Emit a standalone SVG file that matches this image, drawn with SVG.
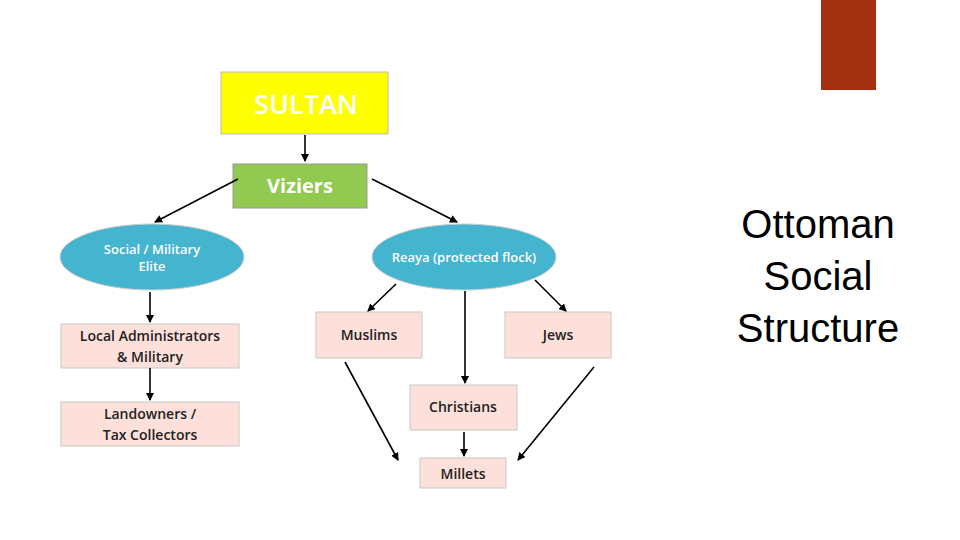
<svg xmlns="http://www.w3.org/2000/svg" width="960" height="540" viewBox="0 0 960 540">
<style>
.box{fill:#fde0da;stroke:#c8c8c8;stroke-width:1}
.t{font-family:"Open Sans","Liberation Sans",sans-serif;font-size:14px;fill:#222;text-anchor:middle;font-weight:600}
.w{font-family:"Open Sans","Liberation Sans",sans-serif;fill:#fff;text-anchor:middle;font-weight:600}
.c line{stroke:#000;stroke-width:1.6;marker-end:url(#a)}
</style>
<defs><marker id="a" markerWidth="8" markerHeight="8" refX="7" refY="4" orient="auto" markerUnits="userSpaceOnUse"><path d="M0,0L8,4L0,8z" fill="#000"/></marker></defs>
<rect width="960" height="540" fill="#fff"/>
<rect x="821" y="0" width="55" height="90" fill="#a33111"/>
<g id="sultan"><rect x="221" y="72" width="167" height="62" fill="#ffff00" stroke="#bbb"/><text class="w" x="306" y="114" font-size="27">SULTAN</text></g>
<g id="viziers"><rect x="233" y="164" width="134" height="44" fill="#92c950" stroke="#999"/><text class="w" x="300" y="193" font-size="20" style="font-weight:bold">Viziers</text></g>
<g id="elite"><ellipse cx="152" cy="257" rx="92" ry="33" fill="#45b4cf" stroke="#ccc"/><text class="w" x="152" y="254" font-size="13">Social / Military</text><text class="w" x="152" y="271" font-size="13">Elite</text></g>
<g id="reaya"><ellipse cx="464" cy="257" rx="92" ry="33" fill="#45b4cf" stroke="#ccc"/><text class="w" x="464" y="262" font-size="13">Reaya (protected flock)</text></g>
<g id="local"><rect class="box" x="61" y="324" width="178" height="44"/><text class="t" x="150" y="341">Local Administrators</text><text class="t" x="150" y="362">&amp; Military</text></g>
<g id="land"><rect class="box" x="61" y="402" width="178" height="44"/><text class="t" x="150" y="419">Landowners /</text><text class="t" x="150" y="440">Tax Collectors</text></g>
<g id="muslims"><rect class="box" x="316" y="312" width="106" height="46"/><text class="t" x="369" y="340">Muslims</text></g>
<g id="jews"><rect class="box" x="505" y="312" width="106" height="46"/><text class="t" x="558" y="340">Jews</text></g>
<g id="christians"><rect class="box" x="410" y="385" width="107" height="45"/><text class="t" x="463" y="412">Christians</text></g>
<g id="millets"><rect class="box" x="420" y="458" width="86" height="30"/><text class="t" x="463" y="479">Millets</text></g>
<g class="c">
<line x1="305" y1="135" x2="305" y2="161"/>
<line x1="238" y1="179" x2="155" y2="222"/>
<line x1="372" y1="179" x2="457" y2="222"/>
<line x1="150" y1="292" x2="150" y2="322"/>
<line x1="150" y1="368" x2="150" y2="400"/>
<line x1="396" y1="284" x2="368" y2="311"/>
<line x1="465" y1="291" x2="465" y2="383"/>
<line x1="535" y1="280" x2="566" y2="311"/>
<line x1="345" y1="362" x2="398" y2="460"/>
<line x1="464" y1="432" x2="464" y2="456"/>
<line x1="594" y1="367" x2="518" y2="460"/>
</g>
<g id="title" font-family="Liberation Sans,Arial,sans-serif" font-size="40" text-anchor="middle" fill="#000">
<text x="818" y="238">Ottoman</text><text x="818" y="290">Social</text><text x="818" y="342">Structure</text>
</g>
</svg>
